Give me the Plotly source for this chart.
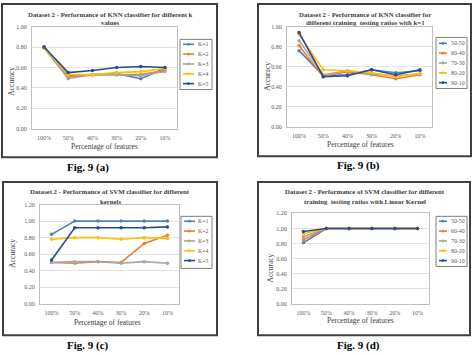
import plotly.graph_objects as go

W, H = 474, 355

categories = ["100%", "50%", "40%", "30%", "20%", "10%"]
k_names = ["K=1", "K=2", "K=3", "K=4", "K=5"]
ratio_names = ["50-50", "60-40", "70-30", "80-20", "90-10"]
y_ticks_a = [0.0, 0.2, 0.4, 0.6, 0.8, 1.0]
y_ticks_c = [0.0, 0.2, 0.4, 0.6, 0.8, 1.0, 1.2]

# (a) KNN, different k
knn_k_values = [
    [0.80, 0.52, 0.53, 0.54, 0.49, 0.59],
    [0.79, 0.51, 0.53, 0.53, 0.53, 0.57],
    [0.79, 0.49, 0.53, 0.53, 0.52, 0.56],
    [0.79, 0.53, 0.53, 0.55, 0.56, 0.59],
    [0.80, 0.55, 0.57, 0.60, 0.61, 0.60],
]
# (b) KNN, different training/testing ratios, k=1
knn_ratio_values = [
    [0.76, 0.51, 0.52, 0.57, 0.54, 0.56],
    [0.81, 0.50, 0.55, 0.52, 0.48, 0.52],
    [0.86, 0.52, 0.56, 0.53, 0.51, 0.53],
    [0.92, 0.57, 0.56, 0.54, 0.50, 0.53],
    [0.94, 0.50, 0.51, 0.57, 0.52, 0.57],
]
# (c) SVM, different kernels
svm_kernel_values = [
    [0.84, 1.00, 1.00, 1.00, 1.00, 1.00],
    [0.50, 0.49, 0.51, 0.50, 0.73, 0.83],
    [0.50, 0.51, 0.51, 0.49, 0.51, 0.49],
    [0.78, 0.80, 0.80, 0.78, 0.80, 0.79],
    [0.53, 0.92, 0.92, 0.92, 0.92, 0.93],
]
# (d) SVM linear kernel, different ratios
svm_ratio_values = [
    [0.81, 1.00, 1.00, 1.00, 1.00, 1.00],
    [0.85, 1.00, 1.00, 1.00, 1.00, 1.00],
    [0.89, 1.00, 1.00, 1.00, 1.00, 1.00],
    [0.93, 1.00, 1.00, 1.00, 1.00, 1.00],
    [0.96, 1.00, 1.00, 1.00, 1.00, 1.00],
]

colors = ["#4F81BD", "#ED7D31", "#A5A5A5", "#FFC000", "#264B96"]
SERIF = "Liberation Serif"


def px(x):
    return x / W


def py(y):
    return 1 - y / H


panels = [
    dict(values=knn_k_values, names=k_names, ymax=1.0, ticks=y_ticks_a,
         box=(2, 1, 217, 157), plot=(32, 24, 177, 128),
         title=["Dataset 2 - Performance of KNN classifier for different k", "values"],
         title_xy=(110, 12, 20), legend=(180, 37, 212, 88), leg_y=[42, 52, 62, 72, 82],
         leg_line=(183, 194), leg_text=196,
         xtitle=(104, 146), ytitle=(12, 80), caption=("Fig. 9 (a)", 88, 167)),
    dict(values=knn_ratio_values, names=ratio_names, ymax=1.0, ticks=y_ticks_a,
         box=(258, 1, 471, 156), plot=(287, 24, 432, 126),
         title=["Dataset 2 - Performance of KNN classifier for",
                "different training  testing ratios with k=1"],
         title_xy=(365, 12, 20), legend=(436, 35, 467, 87), leg_y=[41, 51, 61, 71, 81],
         leg_line=(439, 447), leg_text=449,
         xtitle=(360, 144), ytitle=(268, 75), caption=("Fig. 9 (b)", 358, 165)),
    dict(values=svm_kernel_values, names=k_names, ymax=1.2, ticks=y_ticks_c,
         box=(3, 182, 217, 338), plot=(40, 205, 179, 306),
         title=["Dataset 2 - Performance of SVM classifier for different", "kernels"],
         title_xy=(110, 192, 202), legend=(181, 217, 212, 270), leg_y=[222, 232, 242, 252, 262],
         leg_line=(184, 195), leg_text=196,
         xtitle=(107, 325), ytitle=(13, 255), caption=("Fig. 9 (c)", 88, 348)),
    dict(values=svm_ratio_values, names=ratio_names, ymax=1.2, ticks=y_ticks_c,
         box=(258, 182, 470, 338), plot=(292, 214, 429, 306),
         title=["Dataset 2 - Performance of SVM classifier for different",
                "training  testing ratios with Linear Kernel"],
         title_xy=(365, 192, 202), legend=(436, 217, 467, 268), leg_y=[222, 232, 242, 252, 262],
         leg_line=(439, 447), leg_text=449,
         xtitle=(360, 323), ytitle=(270, 270), caption=("Fig. 9 (d)", 358, 348)),
]

fig = go.Figure()
shapes = []
annotations = []
layout_axes = {}

for i, p in enumerate(panels, start=1):
    xa = "x" if i == 1 else f"x{i}"
    ya = "y" if i == 1 else f"y{i}"
    x0, y0, x1, y1 = p["plot"]
    for name, vals, col in zip(p["names"], p["values"], colors):
        fig.add_trace(go.Scatter(
            x=categories, y=vals, name=name, mode="lines+markers",
            line=dict(color=col, width=1.6),
            marker=dict(color=col, size=3.5, symbol="circle"),
            xaxis=xa, yaxis=ya, showlegend=False,
        ))
    layout_axes[f"xaxis{'' if i == 1 else i}"] = dict(
        domain=[px(x0), px(x1)], anchor=ya, type="category",
        categoryorder="array", categoryarray=categories,
        range=[-0.5, 5.5], showline=True, mirror=True, linecolor="#BFBFBF",
        linewidth=1, showgrid=False, zeroline=False, ticks="",
        tickfont=dict(family=SERIF, size=6, color="#595959"),
        ticklabelstandoff=3, fixedrange=True,
    )
    layout_axes[f"yaxis{'' if i == 1 else i}"] = dict(
        domain=[py(y1), py(y0)], anchor=xa, range=[0, p["ymax"]],
        tickvals=p["ticks"], ticktext=[f"{t:.2f}" for t in p["ticks"]],
        showline=True, mirror=True, linecolor="#BFBFBF", linewidth=1,
        showgrid=True, gridcolor="#E3E3E3", gridwidth=1, zeroline=False, ticks="",
        tickfont=dict(family=SERIF, size=6, color="#595959"),
        ticklabelstandoff=3, fixedrange=True,
    )
    # outer box
    bx0, by0, bx1, by1 = p["box"]
    shapes.append(dict(type="rect", xref="paper", yref="paper",
                       x0=px(bx0), x1=px(bx1), y0=py(by1), y1=py(by0),
                       line=dict(color="#404040", width=2), fillcolor="rgba(0,0,0,0)"))
    # legend box
    lx0, ly0, lx1, ly1 = p["legend"]
    shapes.append(dict(type="rect", xref="paper", yref="paper",
                       x0=px(lx0), x1=px(lx1), y0=py(ly1), y1=py(ly0),
                       line=dict(color="#7F7F7F", width=1), fillcolor="white"))
    la, lb = p["leg_line"]
    for name, col, yy in zip(p["names"], colors, p["leg_y"]):
        shapes.append(dict(type="line", xref="paper", yref="paper",
                           x0=px(la), x1=px(lb), y0=py(yy), y1=py(yy),
                           line=dict(color=col, width=1.6)))
        cx = (la + lb) / 2
        shapes.append(dict(type="circle", xref="paper", yref="paper",
                           x0=px(cx - 1.4), x1=px(cx + 1.4), y0=py(yy + 1.4), y1=py(yy - 1.4),
                           line=dict(color=col, width=0), fillcolor=col))
        annotations.append(dict(text=name, xref="paper", yref="paper",
                                x=px(p["leg_text"]), y=py(yy), xanchor="left", yanchor="middle",
                                showarrow=False, font=dict(family=SERIF, size=5.8, color="#595959")))
    # title
    tx, t1, t2 = p["title_xy"]
    for line, yy in zip(p["title"], (t1, t2)):
        annotations.append(dict(text=f"<b>{line}</b>", xref="paper", yref="paper",
                                x=px(tx), y=py(yy), xanchor="center", yanchor="middle",
                                showarrow=False, font=dict(family=SERIF, size=6.8, color="#404040")))
    # axis titles
    annotations.append(dict(text="Percentage of features", xref="paper", yref="paper",
                            x=px(p["xtitle"][0]), y=py(p["xtitle"][1]),
                            xanchor="center", yanchor="middle", showarrow=False,
                            font=dict(family=SERIF, size=7.5, color="#404040")))
    annotations.append(dict(text="Accuracy", xref="paper", yref="paper",
                            x=px(p["ytitle"][0]), y=py(p["ytitle"][1]), textangle=-90,
                            xanchor="center", yanchor="middle", showarrow=False,
                            font=dict(family=SERIF, size=7.5, color="#404040")))
    # caption
    cap, cx, cy = p["caption"]
    annotations.append(dict(text=f"<b>{cap}</b>", xref="paper", yref="paper",
                            x=px(cx), y=py(cy), xanchor="center", yanchor="middle",
                            showarrow=False, font=dict(family=SERIF, size=11, color="#000000")))

fig.update_layout(
    width=W, height=H, margin=dict(l=0, r=0, t=0, b=0),
    paper_bgcolor="white", plot_bgcolor="white", showlegend=False,
    shapes=shapes, annotations=annotations, **layout_axes,
)

fig.write_html(
    "out.html",
    config={"displayModeBar": False},
    post_script="document.body.style.margin='0';document.body.style.overflow='hidden';"
                "document.documentElement.style.overflow='hidden';",
)
